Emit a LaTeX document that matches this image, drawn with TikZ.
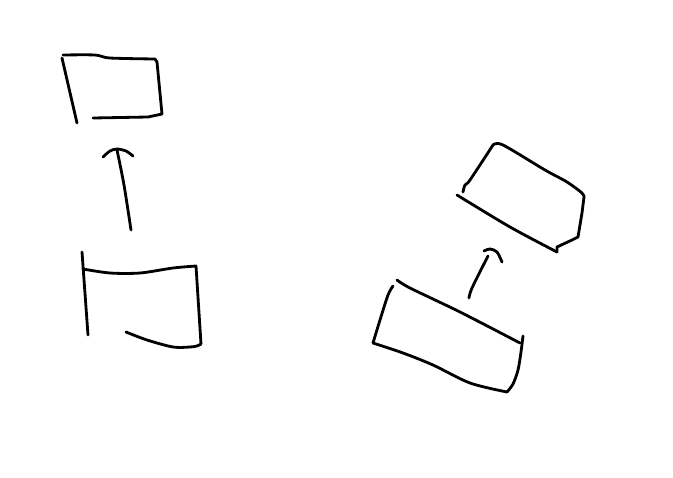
\documentclass[tikz,border=0pt]{standalone}
\usetikzlibrary{positioning}

\begin{document}
\begin{tikzpicture}[x=0.02cm, y=-0.02cm, line cap=round, line join=round,
    stroke/.style={line width=1.6pt}]
    \useasboundingbox (0,0) rectangle (673,477);
    \coordinate (1) at (131,230);
    \coordinate (2) at (117,150);
    \coordinate (3) at (469,298);
    \coordinate (4) at (488,256);
\begin{scope}[stroke]
    % left pair
    \draw (62,58) -- (77,123);
    \draw plot[smooth] coordinates {(63,55) (95,55) (110,58) (155,59)} -- (157,62) -- (162,114) -- (148,117) -- (93,118);
    \draw plot[smooth] coordinates {(1) (124,185) (2)};
    \draw plot[smooth] coordinates {(103,157) (110,151) (117,149) (126,151) (133,156)};
    \draw (82,252) -- (88,335);
    \draw plot[smooth] coordinates {(83,269) (110,273) (140,273) (173,268) (196,266)} -- (201,344);
    \draw plot[smooth] coordinates {(126,332) (147,340) (173,347) (190,347) (197,346) (201,344)};
    % right pair
    \draw plot[smooth] coordinates {(463,192) (465,185) (470,180) (493,145)};
    \draw plot[smooth] coordinates {(493,145) (503,145) (545,170) (567,182) (582,193) (584,197)}
      -- (582,213) -- (578,237) -- (572,240) -- (557,247) -- (557,252);
    \draw plot[smooth] coordinates {(457,195) (510,227) (557,252)};
    \draw plot[smooth] coordinates {(3) (472,288) (488,256)};
    \draw plot[smooth] coordinates {(484,251) (490,249) (497,252) (502,262)};
    \draw plot[smooth] coordinates {(397,280) (410,288) (460,312) (520,343)};
    \draw plot[smooth] coordinates {(393,286) (388,295) (380,320) (373,343)};
    \draw plot[smooth] coordinates {(373,343) (403,353) (433,365) (470,383) (507,392)};
    \draw plot[smooth] coordinates {(523,336) (521,352) (518,370) (513,384) (507,392)};
\end{scope}
\end{tikzpicture}
\end{document}
